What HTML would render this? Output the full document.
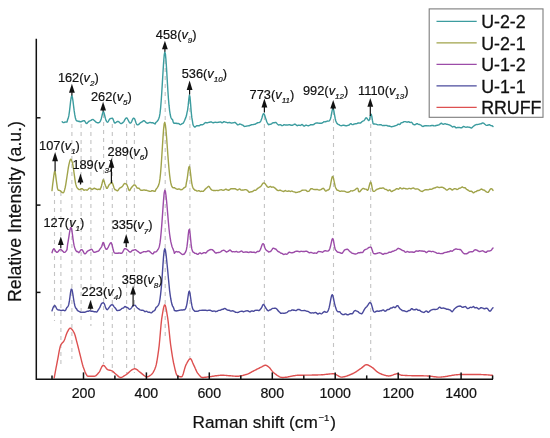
<!DOCTYPE html>
<html><head><meta charset="utf-8"><title>Raman spectra</title><style>html,body{margin:0;padding:0;background:#fff;width:550px;height:438px;overflow:hidden}svg{display:block}</style></head><body>
<svg width="550" height="438" viewBox="0 0 550 438">
<rect width="550" height="438" fill="#fff"/>
<g stroke="#c4c4c4" stroke-width="1.1" stroke-dasharray="4 4" fill="none">
<line x1="54.5" y1="192" x2="54.5" y2="321"/>
<line x1="60.9" y1="192" x2="60.9" y2="364"/>
<line x1="71.9" y1="124" x2="71.9" y2="359"/>
<line x1="81.1" y1="124" x2="81.1" y2="321"/>
<line x1="90.9" y1="124" x2="90.9" y2="326"/>
<line x1="103.6" y1="114" x2="103.6" y2="364"/>
<line x1="112.3" y1="124" x2="112.3" y2="373"/>
<line x1="126.6" y1="124" x2="126.6" y2="373"/>
<line x1="134.4" y1="124" x2="134.4" y2="373"/>
<line x1="165.2" y1="60" x2="165.2" y2="340"/>
<line x1="189.9" y1="100" x2="189.9" y2="358"/>
<line x1="264.4" y1="116" x2="264.4" y2="364"/>
<line x1="333.5" y1="111" x2="333.5" y2="370"/>
<line x1="370.7" y1="116" x2="370.7" y2="364"/>
</g>
<g fill="none" stroke-width="1.4" stroke-linejoin="round" stroke-linecap="round">
<path stroke="#dd5050" d="M54.2,377.9 L54.8,374.6 L55.4,371.4 L56.0,368.2 L56.6,365.1 L57.2,362.0 L57.8,358.9 L58.4,355.6 L59.0,352.2 L59.6,349.1 L60.2,346.6 L60.8,345.0 L61.4,344.0 L62.0,343.2 L62.6,342.6 L63.2,342.0 L63.8,341.1 L64.4,340.0 L65.0,338.4 L65.6,336.6 L66.2,334.8 L66.8,333.2 L67.4,331.9 L68.0,330.8 L68.6,329.7 L69.2,328.8 L69.8,328.3 L70.4,328.2 L71.0,328.5 L71.6,329.0 L72.2,329.7 L72.8,330.5 L73.4,331.5 L74.0,332.5 L74.6,333.9 L75.2,335.8 L75.8,338.0 L76.4,340.4 L77.0,342.6 L77.6,344.9 L78.2,347.2 L78.8,349.7 L79.4,352.1 L80.0,354.5 L80.6,356.9 L81.2,359.3 L81.8,361.8 L82.4,364.2 L83.0,366.3 L83.6,368.1 L84.2,369.6 L84.8,371.2 L85.4,372.6 L86.0,373.9 L86.6,375.0 L87.2,375.8 L87.8,376.2 L88.4,376.2 L89.0,376.2 L89.6,376.2 L90.2,376.2 L90.8,376.2 L91.4,376.2 L92.0,376.2 L92.6,376.2 L93.2,376.2 L93.8,376.2 L94.4,376.2 L95.0,376.1 L95.6,375.9 L96.2,375.4 L96.8,374.9 L97.4,374.2 L98.0,373.5 L98.6,372.8 L99.2,372.1 L99.8,371.1 L100.4,369.8 L101.0,368.5 L101.6,367.2 L102.2,366.2 L102.8,365.5 L103.4,365.3 L104.0,365.6 L104.6,366.1 L105.2,366.9 L105.8,367.7 L106.4,368.5 L107.0,369.2 L107.6,369.6 L108.2,369.8 L108.8,370.0 L109.4,370.2 L110.0,370.3 L110.6,370.4 L111.2,370.6 L111.8,370.8 L112.4,371.1 L113.0,371.5 L113.6,372.1 L114.2,372.6 L114.8,373.2 L115.4,373.7 L116.0,374.2 L116.6,374.7 L117.2,375.3 L117.8,375.9 L118.4,376.4 L119.0,376.9 L119.6,377.2 L120.2,377.4 L120.8,377.5 L121.4,377.4 L122.0,377.2 L122.6,376.9 L123.2,376.5 L123.8,376.1 L124.4,375.7 L125.0,375.4 L125.6,375.0 L126.2,374.6 L126.8,374.1 L127.4,373.6 L128.0,373.1 L128.6,372.6 L129.2,372.1 L129.8,371.5 L130.4,371.0 L131.0,370.5 L131.6,370.1 L132.2,369.7 L132.8,369.4 L133.4,369.1 L134.0,368.9 L134.6,368.8 L135.2,368.8 L135.8,369.0 L136.4,369.3 L137.0,369.7 L137.6,370.1 L138.2,370.7 L138.8,371.2 L139.4,371.7 L140.0,372.2 L140.6,372.6 L141.2,373.1 L141.8,373.6 L142.4,374.1 L143.0,374.6 L143.6,375.2 L144.2,375.6 L144.8,376.0 L145.4,376.4 L146.0,376.6 L146.6,376.8 L147.2,376.8 L147.8,376.7 L148.4,376.5 L149.0,376.2 L149.6,375.8 L150.2,375.4 L150.8,375.0 L151.4,374.5 L152.0,373.9 L152.6,373.2 L153.2,372.3 L153.8,371.2 L154.4,370.0 L155.0,368.6 L155.6,367.0 L156.2,364.9 L156.8,362.0 L157.4,358.4 L158.0,354.4 L158.6,350.2 L159.2,345.3 L159.8,339.0 L160.4,332.1 L161.0,325.3 L161.6,319.6 L162.2,315.6 L162.8,312.0 L163.4,308.7 L164.0,306.2 L164.6,304.9 L165.2,305.2 L165.8,307.2 L166.4,310.2 L167.0,313.8 L167.6,317.4 L168.2,321.9 L168.8,327.5 L169.4,333.5 L170.0,339.4 L170.6,344.5 L171.2,348.7 L171.8,352.7 L172.4,356.5 L173.0,359.9 L173.6,363.0 L174.2,365.7 L174.8,368.3 L175.4,370.8 L176.0,373.0 L176.6,374.7 L177.2,375.6 L177.8,375.9 L178.4,376.2 L179.0,376.4 L179.6,376.6 L180.2,376.7 L180.8,376.8 L181.4,376.8 L182.0,376.6 L182.6,375.5 L183.2,373.9 L183.8,371.8 L184.4,369.6 L185.0,367.5 L185.6,365.7 L186.2,364.4 L186.8,363.3 L187.4,362.1 L188.0,361.1 L188.6,360.1 L189.2,359.4 L189.8,358.9 L190.4,358.7 L191.0,359.1 L191.6,360.1 L192.2,361.5 L192.8,363.0 L193.4,364.4 L194.0,365.6 L194.6,366.9 L195.2,368.3 L195.8,369.6 L196.4,370.9 L197.0,372.1 L197.6,373.1 L198.2,373.8 L198.8,374.6 L199.4,375.3 L200.0,376.0 L200.6,376.6 L201.2,377.1 L201.8,377.4 L202.4,377.5 L203.0,377.5 L203.6,377.5 L204.2,377.4 L204.8,377.3 L205.4,377.3 L206.0,377.2 L206.6,377.1 L207.2,377.0 L207.8,376.9 L208.4,376.9 L209.0,376.8 L209.6,376.7 L210.2,376.6 L210.8,376.6 L211.4,376.5 L212.0,376.4 L212.6,376.3 L213.2,376.2 L213.8,376.1 L214.4,376.0 L215.0,375.9 L215.6,375.8 L216.2,375.8 L216.8,375.7 L217.4,375.6 L218.0,375.5 L218.6,375.5 L219.2,375.4 L219.8,375.4 L220.4,375.3 L221.0,375.3 L221.6,375.3 L222.2,375.3 L222.8,375.3 L223.4,375.3 L224.0,375.3 L224.6,375.4 L225.2,375.4 L225.8,375.4 L226.4,375.5 L227.0,375.5 L227.6,375.6 L228.2,375.6 L228.8,375.7 L229.4,375.7 L230.0,375.8 L230.6,375.8 L231.2,375.9 L231.8,375.9 L232.4,376.0 L233.0,376.0 L233.6,376.1 L234.2,376.1 L234.8,376.1 L235.4,376.2 L236.0,376.2 L236.6,376.2 L237.2,376.2 L237.8,376.2 L238.4,376.2 L239.0,376.1 L239.6,376.0 L240.2,376.0 L240.8,375.9 L241.4,375.7 L242.0,375.6 L242.6,375.5 L243.2,375.3 L243.8,375.2 L244.4,375.0 L245.0,374.9 L245.6,374.7 L246.2,374.5 L246.8,374.4 L247.4,374.1 L248.0,373.9 L248.6,373.6 L249.2,373.3 L249.8,373.0 L250.4,372.7 L251.0,372.3 L251.6,372.0 L252.2,371.6 L252.8,371.3 L253.4,371.0 L254.0,370.7 L254.6,370.3 L255.2,370.1 L255.8,369.8 L256.4,369.5 L257.0,369.2 L257.6,368.9 L258.2,368.6 L258.8,368.3 L259.4,368.0 L260.0,367.7 L260.6,367.4 L261.2,367.1 L261.8,366.8 L262.4,366.4 L263.0,366.1 L263.6,365.8 L264.2,365.5 L264.8,365.3 L265.4,365.2 L266.0,365.3 L266.6,365.5 L267.2,365.9 L267.8,366.3 L268.4,366.7 L269.0,367.2 L269.6,367.8 L270.2,368.5 L270.8,369.3 L271.4,370.1 L272.0,370.9 L272.6,371.6 L273.2,372.3 L273.8,372.8 L274.4,373.2 L275.0,373.7 L275.6,374.2 L276.2,374.6 L276.8,375.1 L277.4,375.5 L278.0,375.9 L278.6,376.2 L279.2,376.6 L279.8,376.9 L280.4,377.1 L281.0,377.3 L281.6,377.4 L282.2,377.5 L282.8,377.5 L283.4,377.5 L284.0,377.4 L284.6,377.4 L285.2,377.3 L285.8,377.3 L286.4,377.2 L287.0,377.1 L287.6,377.0 L288.2,376.8 L288.8,376.7 L289.4,376.6 L290.0,376.5 L290.6,376.4 L291.2,376.2 L291.8,376.1 L292.4,376.0 L293.0,375.9 L293.6,375.8 L294.2,375.7 L294.8,375.6 L295.4,375.5 L296.0,375.4 L296.6,375.4 L297.2,375.3 L297.8,375.3 L298.4,375.3 L299.0,375.3 L299.6,375.2 L300.2,375.2 L300.8,375.2 L301.4,375.2 L302.0,375.2 L302.6,375.2 L303.2,375.2 L303.8,375.2 L304.4,375.1 L305.0,375.1 L305.6,375.1 L306.2,375.1 L306.8,375.1 L307.4,375.1 L308.0,375.1 L308.6,375.1 L309.2,375.1 L309.8,375.1 L310.4,375.1 L311.0,375.1 L311.6,375.1 L312.2,375.0 L312.8,375.0 L313.4,375.0 L314.0,375.0 L314.6,375.0 L315.2,375.0 L315.8,375.0 L316.4,375.0 L317.0,375.0 L317.6,375.0 L318.2,374.9 L318.8,374.9 L319.4,374.9 L320.0,374.9 L320.6,374.9 L321.2,374.8 L321.8,374.8 L322.4,374.7 L323.0,374.7 L323.6,374.6 L324.2,374.6 L324.8,374.5 L325.4,374.4 L326.0,374.4 L326.6,374.3 L327.2,374.2 L327.8,374.2 L328.4,374.1 L329.0,374.0 L329.6,374.0 L330.2,373.9 L330.8,373.9 L331.4,373.9 L332.0,373.8 L332.6,373.8 L333.2,373.8 L333.8,373.8 L334.4,373.9 L335.0,374.1 L335.6,374.3 L336.2,374.6 L336.8,375.0 L337.4,375.4 L338.0,375.7 L338.6,376.1 L339.2,376.4 L339.8,376.7 L340.4,376.9 L341.0,377.1 L341.6,377.1 L342.2,377.1 L342.8,377.0 L343.4,376.9 L344.0,376.8 L344.6,376.7 L345.2,376.5 L345.8,376.4 L346.4,376.2 L347.0,376.0 L347.6,375.7 L348.2,375.5 L348.8,375.3 L349.4,375.0 L350.0,374.8 L350.6,374.5 L351.2,374.3 L351.8,374.0 L352.4,373.8 L353.0,373.5 L353.6,373.2 L354.2,372.9 L354.8,372.5 L355.4,372.2 L356.0,371.8 L356.6,371.4 L357.2,371.0 L357.8,370.6 L358.4,370.2 L359.0,369.7 L359.6,369.3 L360.2,368.9 L360.8,368.5 L361.4,368.1 L362.0,367.6 L362.6,367.1 L363.2,366.6 L363.8,366.1 L364.4,365.6 L365.0,365.2 L365.6,364.9 L366.2,364.7 L366.8,364.7 L367.4,364.8 L368.0,365.0 L368.6,365.3 L369.2,365.6 L369.8,366.0 L370.4,366.3 L371.0,366.7 L371.6,367.1 L372.2,367.5 L372.8,367.9 L373.4,368.4 L374.0,368.9 L374.6,369.5 L375.2,370.1 L375.8,370.6 L376.4,371.2 L377.0,371.7 L377.6,372.1 L378.2,372.5 L378.8,372.9 L379.4,373.2 L380.0,373.5 L380.6,373.7 L381.2,374.0 L381.8,374.3 L382.4,374.5 L383.0,374.7 L383.6,374.9 L384.2,375.1 L384.8,375.2 L385.4,375.4 L386.0,375.6 L386.6,375.7 L387.2,375.8 L387.8,375.9 L388.4,376.0 L389.0,376.0 L389.6,375.9 L390.2,375.8 L390.8,375.7 L391.4,375.5 L392.0,375.3 L392.6,375.1 L393.2,374.9 L393.8,374.6 L394.4,374.4 L395.0,374.2 L395.6,374.1 L396.2,373.9 L396.8,373.8 L397.4,373.8 L398.0,373.9 L398.6,374.0 L399.2,374.3 L399.8,374.6 L400.4,374.9 L401.0,375.1 L401.6,375.3 L402.2,375.3 L402.8,375.4 L403.4,375.4 L404.0,375.4 L404.6,375.4 L405.2,375.5 L405.8,375.5 L406.4,375.5 L407.0,375.5 L407.6,375.6 L408.2,375.6 L408.8,375.6 L409.4,375.6 L410.0,375.6 L410.6,375.6 L411.2,375.6 L411.8,375.7 L412.4,375.7 L413.0,375.7 L413.6,375.7 L414.2,375.7 L414.8,375.7 L415.4,375.7 L416.0,375.7 L416.6,375.7 L417.2,375.7 L417.8,375.7 L418.4,375.7 L419.0,375.8 L419.6,375.8 L420.2,375.8 L420.8,375.8 L421.4,375.8 L422.0,375.8 L422.6,375.8 L423.2,375.8 L423.8,375.9 L424.4,375.9 L425.0,375.9 L425.6,375.9 L426.2,375.9 L426.8,375.9 L427.4,376.0 L428.0,376.0 L428.6,376.0 L429.2,376.1 L429.8,376.1 L430.4,376.2 L431.0,376.3 L431.6,376.4 L432.2,376.4 L432.8,376.5 L433.4,376.6 L434.0,376.7 L434.6,376.8 L435.2,376.8 L435.8,376.9 L436.4,377.0 L437.0,377.0 L437.6,377.1 L438.2,377.1 L438.8,377.1 L439.4,377.1 L440.0,377.1 L440.6,377.1 L441.2,377.0 L441.8,377.0 L442.4,376.9 L443.0,376.9 L443.6,376.8 L444.2,376.7 L444.8,376.6 L445.4,376.5 L446.0,376.5 L446.6,376.4 L447.2,376.3 L447.8,376.2 L448.4,376.0 L449.0,375.9 L449.6,375.8 L450.2,375.7 L450.8,375.6 L451.4,375.5 L452.0,375.4 L452.6,375.3 L453.2,375.2 L453.8,375.1 L454.4,375.0 L455.0,374.9 L455.6,374.9 L456.2,374.8 L456.8,374.7 L457.4,374.7 L458.0,374.6 L458.6,374.6 L459.2,374.5 L459.8,374.5 L460.4,374.5 L461.0,374.5 L461.6,374.5 L462.2,374.5 L462.8,374.5 L463.4,374.5 L464.0,374.5 L464.6,374.5 L465.2,374.5 L465.8,374.5 L466.4,374.5 L467.0,374.5 L467.6,374.5 L468.2,374.5 L468.8,374.5 L469.4,374.5 L470.0,374.5 L470.6,374.5 L471.2,374.5 L471.8,374.5 L472.4,374.5 L473.0,374.5 L473.6,374.5 L474.2,374.5 L474.8,374.5 L475.4,374.5 L476.0,374.5 L476.6,374.5 L477.2,374.5 L477.8,374.5 L478.4,374.5 L479.0,374.5 L479.6,374.5 L480.2,374.5 L480.8,374.5 L481.4,374.6 L482.0,374.6 L482.6,374.6 L483.2,374.6 L483.8,374.7 L484.4,374.7 L485.0,374.7 L485.6,374.8 L486.2,374.8 L486.8,374.9 L487.4,374.9 L488.0,374.9 L488.6,375.0 L489.2,375.0 L489.8,375.1 L490.4,375.1 L491.0,375.2 L491.6,375.2 L492.2,375.3 L492.4,375.3"/>
<path stroke="#4a4a9c" d="M52.0,310.9 L52.6,309.0 L53.2,307.4 L53.8,306.3 L54.4,305.8 L55.0,305.8 L55.6,306.5 L56.2,307.7 L56.8,308.9 L57.4,309.7 L58.0,309.9 L58.6,310.0 L59.2,310.0 L59.8,310.1 L60.4,310.3 L61.0,310.6 L61.6,310.5 L62.2,310.4 L62.8,310.2 L63.4,310.2 L64.0,310.4 L64.6,310.7 L65.2,310.6 L65.8,309.9 L66.4,308.3 L67.0,307.4 L67.6,307.0 L68.2,306.0 L68.8,304.2 L69.4,300.9 L70.0,296.7 L70.6,292.2 L71.2,289.2 L71.8,289.1 L72.4,291.5 L73.0,295.2 L73.6,299.1 L74.2,302.7 L74.8,305.5 L75.4,307.4 L76.0,308.4 L76.6,308.9 L77.2,310.1 L77.8,310.6 L78.4,311.1 L79.0,311.4 L79.6,311.7 L80.2,312.0 L80.8,312.3 L81.4,312.4 L82.0,312.4 L82.6,312.2 L83.2,312.3 L83.8,312.2 L84.4,312.3 L85.0,312.1 L85.6,312.0 L86.2,311.7 L86.8,311.4 L87.4,311.3 L88.0,311.3 L88.6,311.2 L89.2,310.9 L89.8,310.8 L90.4,310.9 L91.0,311.2 L91.6,311.3 L92.2,311.3 L92.8,311.3 L93.4,311.5 L94.0,311.7 L94.6,311.7 L95.2,311.6 L95.8,311.9 L96.4,312.0 L97.0,311.8 L97.6,311.0 L98.2,310.0 L98.8,309.1 L99.4,308.2 L100.0,307.2 L100.6,305.6 L101.2,304.2 L101.8,303.3 L102.4,303.0 L103.0,302.8 L103.6,302.8 L104.2,303.6 L104.8,305.1 L105.4,306.9 L106.0,308.4 L106.6,309.3 L107.2,309.7 L107.8,309.2 L108.4,308.6 L109.0,307.6 L109.6,306.8 L110.2,306.0 L110.8,305.3 L111.4,304.9 L112.0,304.7 L112.6,304.9 L113.2,305.4 L113.8,306.4 L114.4,307.2 L115.0,307.8 L115.6,308.5 L116.2,309.4 L116.8,310.3 L117.4,310.6 L118.0,310.5 L118.6,310.4 L119.2,310.3 L119.8,310.2 L120.4,309.7 L121.0,309.3 L121.6,308.7 L122.2,308.4 L122.8,308.2 L123.4,308.0 L124.0,307.4 L124.6,306.7 L125.2,306.5 L125.8,306.9 L126.4,307.3 L127.0,307.4 L127.6,307.6 L128.2,308.2 L128.8,308.8 L129.4,309.2 L130.0,309.1 L130.6,308.8 L131.2,308.1 L131.8,307.3 L132.4,306.3 L133.0,305.5 L133.6,305.1 L134.2,305.1 L134.8,305.2 L135.4,305.6 L136.0,306.3 L136.6,307.1 L137.2,307.8 L137.8,308.3 L138.4,308.7 L139.0,309.1 L139.6,309.6 L140.2,309.9 L140.8,310.1 L141.4,310.2 L142.0,310.4 L142.6,310.3 L143.2,310.4 L143.8,310.7 L144.4,311.2 L145.0,311.7 L145.6,311.5 L146.2,311.4 L146.8,311.3 L147.4,311.8 L148.0,312.1 L148.6,312.2 L149.2,312.2 L149.8,312.3 L150.4,312.7 L151.0,312.9 L151.6,312.8 L152.2,312.2 L152.8,311.6 L153.4,311.1 L154.0,310.8 L154.6,310.4 L155.2,309.8 L155.8,308.0 L156.4,307.1 L157.0,306.8 L157.6,306.1 L158.2,305.4 L158.8,304.3 L159.4,302.4 L160.0,299.0 L160.6,294.4 L161.2,288.6 L161.8,281.6 L162.4,273.1 L163.0,264.1 L163.6,256.0 L164.2,250.6 L164.8,248.6 L165.4,250.2 L166.0,254.1 L166.6,259.5 L167.2,265.5 L167.8,271.6 L168.4,278.2 L169.0,284.5 L169.6,290.6 L170.2,295.1 L170.8,299.0 L171.4,302.0 L172.0,304.6 L172.6,306.2 L173.2,307.0 L173.8,308.4 L174.4,310.5 L175.0,310.7 L175.6,310.7 L176.2,311.0 L176.8,310.8 L177.4,310.8 L178.0,310.6 L178.6,310.5 L179.2,310.4 L179.8,310.2 L180.4,310.1 L181.0,310.0 L181.6,310.0 L182.2,310.0 L182.8,310.0 L183.4,309.8 L184.0,309.8 L184.6,309.8 L185.2,309.2 L185.8,308.2 L186.4,306.3 L187.0,303.6 L187.6,299.7 L188.2,295.5 L188.8,291.9 L189.4,291.1 L190.0,293.4 L190.6,297.5 L191.2,301.7 L191.8,305.2 L192.4,307.8 L193.0,309.4 L193.6,310.2 L194.2,310.6 L194.8,311.4 L195.4,311.3 L196.0,311.4 L196.6,311.3 L197.2,311.3 L197.8,311.1 L198.4,311.1 L199.0,310.7 L199.6,310.4 L200.2,310.4 L200.8,310.4 L201.4,310.4 L202.0,310.2 L202.6,310.2 L203.2,310.3 L203.8,310.2 L204.4,310.3 L205.0,310.1 L205.6,310.2 L206.2,310.4 L206.8,310.5 L207.4,310.6 L208.0,310.4 L208.6,310.3 L209.2,310.1 L209.8,310.2 L210.4,310.3 L211.0,310.6 L211.6,311.0 L212.2,311.2 L212.8,311.3 L213.4,311.1 L214.0,310.9 L214.6,311.1 L215.2,311.2 L215.8,311.7 L216.4,311.4 L217.0,311.4 L217.6,310.9 L218.2,310.7 L218.8,310.4 L219.4,310.4 L220.0,310.3 L220.6,310.1 L221.2,309.7 L221.8,309.5 L222.4,309.3 L223.0,309.3 L223.6,309.0 L224.2,308.7 L224.8,308.5 L225.4,308.7 L226.0,309.1 L226.6,309.7 L227.2,309.9 L227.8,310.2 L228.4,310.1 L229.0,310.2 L229.6,310.4 L230.2,310.9 L230.8,311.1 L231.4,311.0 L232.0,310.8 L232.6,310.8 L233.2,311.0 L233.8,311.2 L234.4,311.6 L235.0,311.9 L235.6,312.3 L236.2,312.4 L236.8,312.4 L237.4,312.5 L238.0,312.4 L238.6,312.3 L239.2,311.8 L239.8,311.6 L240.4,311.4 L241.0,311.4 L241.6,311.2 L242.2,311.3 L242.8,311.4 L243.4,311.8 L244.0,311.6 L244.6,311.4 L245.2,311.1 L245.8,311.0 L246.4,310.9 L247.0,310.8 L247.6,310.8 L248.2,311.0 L248.8,311.3 L249.4,311.7 L250.0,311.8 L250.6,311.5 L251.2,311.2 L251.8,310.9 L252.4,311.0 L253.0,311.2 L253.6,311.3 L254.2,311.1 L254.8,310.5 L255.4,310.4 L256.0,310.3 L256.6,310.4 L257.2,310.2 L257.8,310.4 L258.4,310.5 L259.0,310.6 L259.6,310.2 L260.2,309.5 L260.8,308.8 L261.4,308.0 L262.0,306.9 L262.6,305.3 L263.2,304.4 L263.8,304.4 L264.4,305.5 L265.0,306.7 L265.6,307.8 L266.2,308.5 L266.8,309.5 L267.4,310.3 L268.0,310.8 L268.6,310.7 L269.2,310.2 L269.8,310.0 L270.4,309.8 L271.0,309.5 L271.6,309.0 L272.2,308.4 L272.8,308.4 L273.4,308.4 L274.0,308.4 L274.6,308.1 L275.2,308.1 L275.8,308.4 L276.4,308.7 L277.0,309.3 L277.6,310.0 L278.2,310.9 L278.8,311.4 L279.4,312.0 L280.0,312.6 L280.6,313.2 L281.2,313.3 L281.8,313.4 L282.4,313.1 L283.0,313.1 L283.6,313.3 L284.2,313.4 L284.8,313.2 L285.4,313.0 L286.0,312.8 L286.6,312.6 L287.2,312.3 L287.8,311.7 L288.4,311.2 L289.0,310.9 L289.6,310.9 L290.2,310.8 L290.8,310.6 L291.4,310.3 L292.0,309.9 L292.6,310.0 L293.2,310.0 L293.8,310.3 L294.4,310.2 L295.0,310.4 L295.6,310.6 L296.2,310.6 L296.8,310.2 L297.4,309.7 L298.0,309.4 L298.6,309.5 L299.2,309.5 L299.8,309.8 L300.4,310.0 L301.0,310.5 L301.6,310.6 L302.2,310.6 L302.8,310.6 L303.4,310.6 L304.0,310.5 L304.6,310.5 L305.2,310.7 L305.8,310.9 L306.4,311.1 L307.0,311.2 L307.6,311.4 L308.2,311.5 L308.8,311.9 L309.4,312.2 L310.0,312.7 L310.6,312.8 L311.2,313.1 L311.8,312.9 L312.4,312.9 L313.0,312.8 L313.6,313.0 L314.2,312.9 L314.8,312.6 L315.4,312.4 L316.0,312.6 L316.6,313.1 L317.2,313.7 L317.8,314.0 L318.4,313.8 L319.0,313.4 L319.6,313.2 L320.2,313.4 L320.8,313.7 L321.4,313.9 L322.0,313.5 L322.6,312.9 L323.2,312.3 L323.8,312.0 L324.4,311.5 L325.0,311.8 L325.6,312.0 L326.2,312.3 L326.8,312.1 L327.4,311.8 L328.0,310.9 L328.6,309.5 L329.2,307.4 L329.8,304.6 L330.4,301.3 L331.0,298.1 L331.6,295.6 L332.2,294.7 L332.8,295.7 L333.4,298.0 L334.0,301.0 L334.6,303.7 L335.2,306.1 L335.8,308.1 L336.4,309.8 L337.0,310.9 L337.6,311.6 L338.2,311.8 L338.8,311.8 L339.4,311.7 L340.0,311.9 L340.6,312.8 L341.2,313.6 L341.8,314.0 L342.4,314.5 L343.0,314.5 L343.6,314.7 L344.2,314.5 L344.8,314.2 L345.4,313.9 L346.0,314.0 L346.6,314.4 L347.2,314.8 L347.8,314.8 L348.4,314.7 L349.0,314.3 L349.6,314.1 L350.2,313.7 L350.8,313.7 L351.4,313.8 L352.0,313.8 L352.6,313.6 L353.2,312.6 L353.8,311.7 L354.4,310.8 L355.0,310.6 L355.6,310.5 L356.2,310.9 L356.8,311.1 L357.4,311.3 L358.0,311.6 L358.6,312.2 L359.2,312.8 L359.8,313.1 L360.4,313.4 L361.0,313.6 L361.6,313.9 L362.2,313.3 L362.8,312.5 L363.4,311.3 L364.0,310.2 L364.6,309.1 L365.2,308.2 L365.8,307.6 L366.4,307.0 L367.0,306.4 L367.6,305.5 L368.2,304.6 L368.8,303.6 L369.4,302.8 L370.0,302.5 L370.6,302.9 L371.2,303.7 L371.8,305.6 L372.4,307.8 L373.0,310.0 L373.6,311.5 L374.2,312.0 L374.8,312.1 L375.4,311.9 L376.0,311.4 L376.6,311.3 L377.2,311.0 L377.8,311.2 L378.4,311.2 L379.0,311.3 L379.6,311.0 L380.2,310.9 L380.8,310.8 L381.4,310.8 L382.0,310.4 L382.6,310.1 L383.2,309.9 L383.8,310.2 L384.4,310.8 L385.0,311.2 L385.6,311.1 L386.2,310.6 L386.8,310.1 L387.4,309.7 L388.0,309.4 L388.6,309.5 L389.2,309.3 L389.8,308.9 L390.4,308.2 L391.0,308.0 L391.6,308.0 L392.2,307.9 L392.8,307.4 L393.4,307.0 L394.0,307.2 L394.6,307.5 L395.2,307.6 L395.8,307.1 L396.4,306.3 L397.0,305.6 L397.6,305.6 L398.2,306.1 L398.8,307.2 L399.4,308.0 L400.0,308.8 L400.6,309.2 L401.2,309.7 L401.8,310.1 L402.4,310.6 L403.0,310.8 L403.6,310.7 L404.2,310.8 L404.8,311.0 L405.4,311.4 L406.0,311.5 L406.6,311.7 L407.2,311.5 L407.8,311.2 L408.4,310.7 L409.0,310.5 L409.6,310.5 L410.2,310.2 L410.8,309.5 L411.4,308.8 L412.0,308.7 L412.6,309.1 L413.2,309.6 L413.8,309.8 L414.4,309.8 L415.0,309.8 L415.6,309.5 L416.2,309.2 L416.8,309.3 L417.4,309.7 L418.0,310.3 L418.6,310.2 L419.2,310.2 L419.8,310.3 L420.4,310.9 L421.0,311.4 L421.6,311.7 L422.2,312.0 L422.8,312.2 L423.4,312.4 L424.0,312.5 L424.6,312.1 L425.2,311.5 L425.8,311.1 L426.4,311.0 L427.0,311.4 L427.6,311.9 L428.2,312.3 L428.8,312.0 L429.4,311.5 L430.0,310.8 L430.6,310.5 L431.2,310.0 L431.8,309.9 L432.4,309.7 L433.0,309.5 L433.6,309.4 L434.2,309.3 L434.8,309.5 L435.4,309.5 L436.0,309.4 L436.6,309.3 L437.2,309.1 L437.8,308.8 L438.4,308.1 L439.0,307.5 L439.6,307.1 L440.2,307.4 L440.8,307.9 L441.4,308.4 L442.0,308.4 L442.6,308.2 L443.2,308.0 L443.8,308.2 L444.4,308.3 L445.0,308.5 L445.6,308.7 L446.2,309.0 L446.8,309.4 L447.4,309.2 L448.0,309.3 L448.6,309.4 L449.2,309.8 L449.8,309.9 L450.4,310.2 L451.0,310.8 L451.6,311.5 L452.2,311.7 L452.8,311.1 L453.4,310.3 L454.0,309.4 L454.6,308.7 L455.2,308.2 L455.8,307.7 L456.4,307.3 L457.0,306.9 L457.6,306.5 L458.2,306.3 L458.8,306.1 L459.4,306.2 L460.0,306.0 L460.6,306.3 L461.2,306.4 L461.8,307.1 L462.4,307.2 L463.0,307.3 L463.6,307.0 L464.2,306.8 L464.8,306.6 L465.4,306.5 L466.0,307.0 L466.6,307.7 L467.2,308.3 L467.8,308.5 L468.4,308.3 L469.0,308.1 L469.6,307.6 L470.2,307.4 L470.8,307.3 L471.4,307.5 L472.0,307.4 L472.6,307.0 L473.2,306.5 L473.8,306.8 L474.4,307.4 L475.0,307.9 L475.6,307.7 L476.2,307.6 L476.8,307.5 L477.4,308.2 L478.0,308.5 L478.6,309.0 L479.2,308.8 L479.8,308.6 L480.4,308.0 L481.0,307.7 L481.6,307.6 L482.2,307.9 L482.8,308.1 L483.4,308.5 L484.0,308.7 L484.6,308.8 L485.2,308.5 L485.8,308.3 L486.4,308.2 L487.0,308.3 L487.6,308.7 L488.2,309.5 L488.8,310.5 L489.4,311.0 L490.0,311.2 L490.6,310.8 L491.2,310.0 L491.8,309.1 L492.4,308.4 L493.0,307.7"/>
<path stroke="#9c4ca8" d="M52.0,252.7 L52.6,250.7 L53.2,249.4 L53.8,248.8 L54.4,249.4 L55.0,250.2 L55.6,251.2 L56.2,251.9 L56.8,252.4 L57.4,252.3 L58.0,251.8 L58.6,251.0 L59.2,250.3 L59.8,249.6 L60.4,249.5 L61.0,249.6 L61.6,250.1 L62.2,250.5 L62.8,251.3 L63.4,251.8 L64.0,252.4 L64.6,252.4 L65.2,252.1 L65.8,251.4 L66.4,250.7 L67.0,249.6 L67.6,244.3 L68.2,241.1 L68.8,237.4 L69.4,233.3 L70.0,230.0 L70.6,227.8 L71.2,227.7 L71.8,230.2 L72.4,234.2 L73.0,238.8 L73.6,242.8 L74.2,245.9 L74.8,247.9 L75.4,249.6 L76.0,250.7 L76.6,251.5 L77.2,251.5 L77.8,251.7 L78.4,252.5 L79.0,252.5 L79.6,251.7 L80.2,250.8 L80.8,249.9 L81.4,249.7 L82.0,249.8 L82.6,250.5 L83.2,251.4 L83.8,252.6 L84.4,253.5 L85.0,253.8 L85.6,253.6 L86.2,252.8 L86.8,252.0 L87.4,251.3 L88.0,250.9 L88.6,250.5 L89.2,250.3 L89.8,250.0 L90.4,249.8 L91.0,249.3 L91.6,249.3 L92.2,249.7 L92.8,250.9 L93.4,251.7 L94.0,252.3 L94.6,252.2 L95.2,252.2 L95.8,252.0 L96.4,251.7 L97.0,251.5 L97.6,251.3 L98.2,251.3 L98.8,250.8 L99.4,250.0 L100.0,249.0 L100.6,248.2 L101.2,247.4 L101.8,246.3 L102.4,244.2 L103.0,242.5 L103.6,242.6 L104.2,244.5 L104.8,246.8 L105.4,248.1 L106.0,249.3 L106.6,249.4 L107.2,248.9 L107.8,247.9 L108.4,246.8 L109.0,245.5 L109.6,244.3 L110.2,243.3 L110.8,242.7 L111.4,243.0 L112.0,244.7 L112.6,247.2 L113.2,249.8 L113.8,251.9 L114.4,252.8 L115.0,253.1 L115.6,253.2 L116.2,253.1 L116.8,253.3 L117.4,253.1 L118.0,253.3 L118.6,253.0 L119.2,253.1 L119.8,253.0 L120.4,253.3 L121.0,253.3 L121.6,253.2 L122.2,252.8 L122.8,251.9 L123.4,250.7 L124.0,249.5 L124.6,248.8 L125.2,248.7 L125.8,248.8 L126.4,249.2 L127.0,249.5 L127.6,250.0 L128.2,250.6 L128.8,251.2 L129.4,251.7 L130.0,252.1 L130.6,252.1 L131.2,251.7 L131.8,250.9 L132.4,250.4 L133.0,250.1 L133.6,250.2 L134.2,249.9 L134.8,249.8 L135.4,249.6 L136.0,250.0 L136.6,250.5 L137.2,251.0 L137.8,251.5 L138.4,251.7 L139.0,252.3 L139.6,252.7 L140.2,253.3 L140.8,253.0 L141.4,252.9 L142.0,252.3 L142.6,252.1 L143.2,251.8 L143.8,251.7 L144.4,251.6 L145.0,251.6 L145.6,251.7 L146.2,251.7 L146.8,251.5 L147.4,251.2 L148.0,250.9 L148.6,250.9 L149.2,251.2 L149.8,251.5 L150.4,252.2 L151.0,252.7 L151.6,253.3 L152.2,253.7 L152.8,253.8 L153.4,253.6 L154.0,252.2 L154.6,252.0 L155.2,252.0 L155.8,251.9 L156.4,251.6 L157.0,251.0 L157.6,250.0 L158.2,249.1 L158.8,248.0 L159.4,246.2 L160.0,242.9 L160.6,238.1 L161.2,231.8 L161.8,224.6 L162.4,216.3 L163.0,207.6 L163.6,199.2 L164.2,192.9 L164.8,190.3 L165.4,191.4 L166.0,195.5 L166.6,201.2 L167.2,208.0 L167.8,215.1 L168.4,222.3 L169.0,228.7 L169.6,234.0 L170.2,238.1 L170.8,241.7 L171.4,244.2 L172.0,246.5 L172.6,248.0 L173.2,249.4 L173.8,250.9 L174.4,253.3 L175.0,252.6 L175.6,251.9 L176.2,251.5 L176.8,251.6 L177.4,252.0 L178.0,251.9 L178.6,251.8 L179.2,252.0 L179.8,252.5 L180.4,253.0 L181.0,253.5 L181.6,254.0 L182.2,254.4 L182.8,254.6 L183.4,254.2 L184.0,254.2 L184.6,253.5 L185.2,252.7 L185.8,251.4 L186.4,249.7 L187.0,246.4 L187.6,241.4 L188.2,235.3 L188.8,230.4 L189.4,229.3 L190.0,232.8 L190.6,239.0 L191.2,244.8 L191.8,248.9 L192.4,250.9 L193.0,252.0 L193.6,252.3 L194.2,252.7 L194.8,253.3 L195.4,253.4 L196.0,253.4 L196.6,253.9 L197.2,254.2 L197.8,254.3 L198.4,254.0 L199.0,253.4 L199.6,253.0 L200.2,252.9 L200.8,253.3 L201.4,253.7 L202.0,253.6 L202.6,253.4 L203.2,252.9 L203.8,252.6 L204.4,252.6 L205.0,252.8 L205.6,253.1 L206.2,252.7 L206.8,252.0 L207.4,251.2 L208.0,250.8 L208.6,250.4 L209.2,250.2 L209.8,249.8 L210.4,249.7 L211.0,249.5 L211.6,249.6 L212.2,249.7 L212.8,250.1 L213.4,250.6 L214.0,251.3 L214.6,252.0 L215.2,252.7 L215.8,253.0 L216.4,253.0 L217.0,252.7 L217.6,252.6 L218.2,252.5 L218.8,252.5 L219.4,252.3 L220.0,252.1 L220.6,251.8 L221.2,251.4 L221.8,250.9 L222.4,250.6 L223.0,250.4 L223.6,250.3 L224.2,250.4 L224.8,250.6 L225.4,251.3 L226.0,251.7 L226.6,252.0 L227.2,251.7 L227.8,251.5 L228.4,251.1 L229.0,250.7 L229.6,250.1 L230.2,250.0 L230.8,250.5 L231.4,251.3 L232.0,251.8 L232.6,251.7 L233.2,251.6 L233.8,251.6 L234.4,251.9 L235.0,251.9 L235.6,251.6 L236.2,251.5 L236.8,251.5 L237.4,252.0 L238.0,252.1 L238.6,252.1 L239.2,252.0 L239.8,251.9 L240.4,251.5 L241.0,251.1 L241.6,251.0 L242.2,251.4 L242.8,252.0 L243.4,252.4 L244.0,252.2 L244.6,252.1 L245.2,252.0 L245.8,251.9 L246.4,252.0 L247.0,252.0 L247.6,252.3 L248.2,252.4 L248.8,252.5 L249.4,252.2 L250.0,252.0 L250.6,251.8 L251.2,252.0 L251.8,252.3 L252.4,252.4 L253.0,252.2 L253.6,252.1 L254.2,252.2 L254.8,252.5 L255.4,252.7 L256.0,252.6 L256.6,252.0 L257.2,251.6 L257.8,251.3 L258.4,251.5 L259.0,251.3 L259.6,250.9 L260.2,249.9 L260.8,248.6 L261.4,246.8 L262.0,245.0 L262.6,243.8 L263.2,243.6 L263.8,244.4 L264.4,246.2 L265.0,247.9 L265.6,249.4 L266.2,250.1 L266.8,250.7 L267.4,250.9 L268.0,251.3 L268.6,252.0 L269.2,251.9 L269.8,251.8 L270.4,251.4 L271.0,251.1 L271.6,250.2 L272.2,249.4 L272.8,248.4 L273.4,248.1 L274.0,248.4 L274.6,248.7 L275.2,249.0 L275.8,249.0 L276.4,249.7 L277.0,250.4 L277.6,251.2 L278.2,251.5 L278.8,251.8 L279.4,252.0 L280.0,252.5 L280.6,252.9 L281.2,253.3 L281.8,253.4 L282.4,253.7 L283.0,254.1 L283.6,254.5 L284.2,254.3 L284.8,254.1 L285.4,253.9 L286.0,254.1 L286.6,254.2 L287.2,254.1 L287.8,253.5 L288.4,252.8 L289.0,252.3 L289.6,252.2 L290.2,252.5 L290.8,252.7 L291.4,252.9 L292.0,252.8 L292.6,252.7 L293.2,252.5 L293.8,252.3 L294.4,252.0 L295.0,251.7 L295.6,251.4 L296.2,251.3 L296.8,251.3 L297.4,251.3 L298.0,251.3 L298.6,251.5 L299.2,251.7 L299.8,251.7 L300.4,251.5 L301.0,251.3 L301.6,251.4 L302.2,251.4 L302.8,251.6 L303.4,251.5 L304.0,251.5 L304.6,251.5 L305.2,251.4 L305.8,251.2 L306.4,251.1 L307.0,251.4 L307.6,251.7 L308.2,252.2 L308.8,252.5 L309.4,252.9 L310.0,252.7 L310.6,252.5 L311.2,252.4 L311.8,252.6 L312.4,252.9 L313.0,253.1 L313.6,253.2 L314.2,253.2 L314.8,252.9 L315.4,253.1 L316.0,253.1 L316.6,253.3 L317.2,252.7 L317.8,252.0 L318.4,251.5 L319.0,251.5 L319.6,251.6 L320.2,251.6 L320.8,251.7 L321.4,251.9 L322.0,252.1 L322.6,252.2 L323.2,251.7 L323.8,251.3 L324.4,250.9 L325.0,250.8 L325.6,250.8 L326.2,250.9 L326.8,251.1 L327.4,251.1 L328.0,251.0 L328.6,250.7 L329.2,250.1 L329.8,248.8 L330.4,246.8 L331.0,244.1 L331.6,241.3 L332.2,239.0 L332.8,238.6 L333.4,240.2 L334.0,243.6 L334.6,246.7 L335.2,249.3 L335.8,250.2 L336.4,250.8 L337.0,251.7 L337.6,252.1 L338.2,252.3 L338.8,252.3 L339.4,252.5 L340.0,252.7 L340.6,253.0 L341.2,253.2 L341.8,253.3 L342.4,253.0 L343.0,252.2 L343.6,251.3 L344.2,250.4 L344.8,249.9 L345.4,249.7 L346.0,249.5 L346.6,249.3 L347.2,249.2 L347.8,249.5 L348.4,249.9 L349.0,250.7 L349.6,251.2 L350.2,251.8 L350.8,252.1 L351.4,252.7 L352.0,253.2 L352.6,253.4 L353.2,253.5 L353.8,253.6 L354.4,253.9 L355.0,254.0 L355.6,254.0 L356.2,253.8 L356.8,253.6 L357.4,253.3 L358.0,252.9 L358.6,252.8 L359.2,252.7 L359.8,252.8 L360.4,252.5 L361.0,252.5 L361.6,252.5 L362.2,252.6 L362.8,252.3 L363.4,251.4 L364.0,250.5 L364.6,249.9 L365.2,249.6 L365.8,249.3 L366.4,249.1 L367.0,248.9 L367.6,248.5 L368.2,247.9 L368.8,247.5 L369.4,247.3 L370.0,247.1 L370.6,247.1 L371.2,247.3 L371.8,248.9 L372.4,250.7 L373.0,252.5 L373.6,253.5 L374.2,253.7 L374.8,253.7 L375.4,253.8 L376.0,253.7 L376.6,253.5 L377.2,253.3 L377.8,253.2 L378.4,252.9 L379.0,252.9 L379.6,252.7 L380.2,252.9 L380.8,253.1 L381.4,253.4 L382.0,253.8 L382.6,254.2 L383.2,254.3 L383.8,254.0 L384.4,253.5 L385.0,253.5 L385.6,253.5 L386.2,253.6 L386.8,253.4 L387.4,253.2 L388.0,252.9 L388.6,252.5 L389.2,252.2 L389.8,252.2 L390.4,252.3 L391.0,252.3 L391.6,251.8 L392.2,251.4 L392.8,251.2 L393.4,251.2 L394.0,250.9 L394.6,250.5 L395.2,250.3 L395.8,250.1 L396.4,249.8 L397.0,249.2 L397.6,248.7 L398.2,248.3 L398.8,248.5 L399.4,248.6 L400.0,249.0 L400.6,249.3 L401.2,249.7 L401.8,250.1 L402.4,250.5 L403.0,250.6 L403.6,250.7 L404.2,251.1 L404.8,251.8 L405.4,252.2 L406.0,252.1 L406.6,251.8 L407.2,251.4 L407.8,251.6 L408.4,251.9 L409.0,252.2 L409.6,252.2 L410.2,252.0 L410.8,252.1 L411.4,251.9 L412.0,252.1 L412.6,252.0 L413.2,252.3 L413.8,252.3 L414.4,252.2 L415.0,251.7 L415.6,251.3 L416.2,250.9 L416.8,250.9 L417.4,251.1 L418.0,251.3 L418.6,251.0 L419.2,250.8 L419.8,250.8 L420.4,250.9 L421.0,251.0 L421.6,250.9 L422.2,251.0 L422.8,251.2 L423.4,251.3 L424.0,251.2 L424.6,251.2 L425.2,251.7 L425.8,252.1 L426.4,252.6 L427.0,252.3 L427.6,251.8 L428.2,251.3 L428.8,251.2 L429.4,251.2 L430.0,251.3 L430.6,251.4 L431.2,251.7 L431.8,251.6 L432.4,251.4 L433.0,251.4 L433.6,251.6 L434.2,251.9 L434.8,252.1 L435.4,252.3 L436.0,252.6 L436.6,253.0 L437.2,253.4 L437.8,253.4 L438.4,253.3 L439.0,253.3 L439.6,253.4 L440.2,253.6 L440.8,253.6 L441.4,253.6 L442.0,253.5 L442.6,253.5 L443.2,253.3 L443.8,252.9 L444.4,252.6 L445.0,252.5 L445.6,252.4 L446.2,252.4 L446.8,252.3 L447.4,251.9 L448.0,251.7 L448.6,251.6 L449.2,251.7 L449.8,251.3 L450.4,250.9 L451.0,250.8 L451.6,251.1 L452.2,251.3 L452.8,250.8 L453.4,250.3 L454.0,249.7 L454.6,249.5 L455.2,249.2 L455.8,248.9 L456.4,249.0 L457.0,249.2 L457.6,249.4 L458.2,249.4 L458.8,249.4 L459.4,249.5 L460.0,249.5 L460.6,249.7 L461.2,250.3 L461.8,251.2 L462.4,252.1 L463.0,252.7 L463.6,253.2 L464.2,253.7 L464.8,253.8 L465.4,253.9 L466.0,253.8 L466.6,253.8 L467.2,253.5 L467.8,253.1 L468.4,252.6 L469.0,252.1 L469.6,252.0 L470.2,251.9 L470.8,251.8 L471.4,251.7 L472.0,251.8 L472.6,251.7 L473.2,251.4 L473.8,250.7 L474.4,250.1 L475.0,249.8 L475.6,249.8 L476.2,250.0 L476.8,250.2 L477.4,250.5 L478.0,250.8 L478.6,251.2 L479.2,251.5 L479.8,251.5 L480.4,251.3 L481.0,251.1 L481.6,251.0 L482.2,250.8 L482.8,250.9 L483.4,251.1 L484.0,251.5 L484.6,251.8 L485.2,252.2 L485.8,252.3 L486.4,252.2 L487.0,251.5 L487.6,251.2 L488.2,251.0 L488.8,251.1 L489.4,251.0 L490.0,250.9 L490.6,250.7 L491.2,250.2 L491.8,249.5 L492.4,248.7 L493.0,248.1"/>
<path stroke="#a0a34a" d="M52.0,190.6 L52.6,185.1 L53.2,180.6 L53.8,175.9 L54.4,172.0 L55.0,171.2 L55.6,174.7 L56.2,179.6 L56.8,183.9 L57.4,188.1 L58.0,189.9 L58.6,190.3 L59.2,190.3 L59.8,190.5 L60.4,190.9 L61.0,191.4 L61.6,192.1 L62.2,192.5 L62.8,192.7 L63.4,192.7 L64.0,191.8 L64.6,189.9 L65.2,187.5 L65.8,184.3 L66.4,180.3 L67.0,176.5 L67.6,172.6 L68.2,168.5 L68.8,165.2 L69.4,162.6 L70.0,160.4 L70.6,159.2 L71.2,159.4 L71.8,160.9 L72.4,162.7 L73.0,165.7 L73.6,169.7 L74.2,174.0 L74.8,178.4 L75.4,182.5 L76.0,184.9 L76.6,186.7 L77.2,187.9 L77.8,188.6 L78.4,189.2 L79.0,189.5 L79.6,189.6 L80.2,189.5 L80.8,189.1 L81.4,188.7 L82.0,188.6 L82.6,188.9 L83.2,189.6 L83.8,190.1 L84.4,190.2 L85.0,189.9 L85.6,189.9 L86.2,189.9 L86.8,190.2 L87.4,190.1 L88.0,189.4 L88.6,188.8 L89.2,188.2 L89.8,188.1 L90.4,188.1 L91.0,188.7 L91.6,189.2 L92.2,189.5 L92.8,189.1 L93.4,188.6 L94.0,188.3 L94.6,188.3 L95.2,188.7 L95.8,188.7 L96.4,189.2 L97.0,189.3 L97.6,189.6 L98.2,189.3 L98.8,189.2 L99.4,189.1 L100.0,189.6 L100.6,188.3 L101.2,187.1 L101.8,184.8 L102.4,182.2 L103.0,180.0 L103.6,179.8 L104.2,181.5 L104.8,183.8 L105.4,185.5 L106.0,186.8 L106.6,188.4 L107.2,188.3 L107.8,187.4 L108.4,186.1 L109.0,184.9 L109.6,184.3 L110.2,183.8 L110.8,183.1 L111.4,182.5 L112.0,182.5 L112.6,183.6 L113.2,185.3 L113.8,187.2 L114.4,188.6 L115.0,189.7 L115.6,189.8 L116.2,190.2 L116.8,190.5 L117.4,190.9 L118.0,190.4 L118.6,189.7 L119.2,188.5 L119.8,188.1 L120.4,187.7 L121.0,187.5 L121.6,187.0 L122.2,186.7 L122.8,185.9 L123.4,184.9 L124.0,184.0 L124.6,183.5 L125.2,183.7 L125.8,183.9 L126.4,184.2 L127.0,184.9 L127.6,186.5 L128.2,188.2 L128.8,190.0 L129.4,190.6 L130.0,190.1 L130.6,188.9 L131.2,188.0 L131.8,187.1 L132.4,186.6 L133.0,185.8 L133.6,185.2 L134.2,184.9 L134.8,185.0 L135.4,185.3 L136.0,186.1 L136.6,187.1 L137.2,188.0 L137.8,188.2 L138.4,188.2 L139.0,188.3 L139.6,188.9 L140.2,189.7 L140.8,190.2 L141.4,190.3 L142.0,190.4 L142.6,190.2 L143.2,190.1 L143.8,189.9 L144.4,190.0 L145.0,190.2 L145.6,190.2 L146.2,190.2 L146.8,190.4 L147.4,190.7 L148.0,190.9 L148.6,191.0 L149.2,191.1 L149.8,191.4 L150.4,191.4 L151.0,191.3 L151.6,190.7 L152.2,190.7 L152.8,190.7 L153.4,191.0 L154.0,191.2 L154.6,191.3 L155.2,191.2 L155.8,189.7 L156.4,188.8 L157.0,188.1 L157.6,187.2 L158.2,186.2 L158.8,184.6 L159.4,182.4 L160.0,178.4 L160.6,172.8 L161.2,165.2 L161.8,156.3 L162.4,146.7 L163.0,137.4 L163.6,129.1 L164.2,123.8 L164.8,122.3 L165.4,125.0 L166.0,130.2 L166.6,137.6 L167.2,145.7 L167.8,154.1 L168.4,161.9 L169.0,168.9 L169.6,174.9 L170.2,179.5 L170.8,182.9 L171.4,185.2 L172.0,186.7 L172.6,187.5 L173.2,187.7 L173.8,187.7 L174.4,187.7 L175.0,188.1 L175.6,188.3 L176.2,188.9 L176.8,189.1 L177.4,189.3 L178.0,189.2 L178.6,189.0 L179.2,189.0 L179.8,189.1 L180.4,189.7 L181.0,189.9 L181.6,189.7 L182.2,189.5 L182.8,188.9 L183.4,188.5 L184.0,187.8 L184.6,187.5 L185.2,187.1 L185.8,186.6 L186.4,182.7 L187.0,180.0 L187.6,175.9 L188.2,171.2 L188.8,167.3 L189.4,166.3 L190.0,168.9 L190.6,173.8 L191.2,179.1 L191.8,183.3 L192.4,186.2 L193.0,187.8 L193.6,188.9 L194.2,189.4 L194.8,190.2 L195.4,190.1 L196.0,190.4 L196.6,190.8 L197.2,191.1 L197.8,190.9 L198.4,190.6 L199.0,190.6 L199.6,191.0 L200.2,191.5 L200.8,191.4 L201.4,191.2 L202.0,191.3 L202.6,191.4 L203.2,191.4 L203.8,190.8 L204.4,190.3 L205.0,189.4 L205.6,188.9 L206.2,188.2 L206.8,187.9 L207.4,187.2 L208.0,186.7 L208.6,186.3 L209.2,186.7 L209.8,187.5 L210.4,188.5 L211.0,189.3 L211.6,189.9 L212.2,190.2 L212.8,190.4 L213.4,190.5 L214.0,190.4 L214.6,190.5 L215.2,190.6 L215.8,190.5 L216.4,190.4 L217.0,190.4 L217.6,190.5 L218.2,190.6 L218.8,190.3 L219.4,190.1 L220.0,189.9 L220.6,189.9 L221.2,189.7 L221.8,189.9 L222.4,190.1 L223.0,190.2 L223.6,190.2 L224.2,190.0 L224.8,189.7 L225.4,189.3 L226.0,189.2 L226.6,189.5 L227.2,189.9 L227.8,190.0 L228.4,190.3 L229.0,190.0 L229.6,189.8 L230.2,189.2 L230.8,188.8 L231.4,188.8 L232.0,188.8 L232.6,188.8 L233.2,188.8 L233.8,188.8 L234.4,188.7 L235.0,188.7 L235.6,188.9 L236.2,189.4 L236.8,189.7 L237.4,190.0 L238.0,189.9 L238.6,189.5 L239.2,189.0 L239.8,189.0 L240.4,189.4 L241.0,190.0 L241.6,190.1 L242.2,190.2 L242.8,190.0 L243.4,190.1 L244.0,189.9 L244.6,189.8 L245.2,189.6 L245.8,189.6 L246.4,189.8 L247.0,190.1 L247.6,190.5 L248.2,191.3 L248.8,191.9 L249.4,192.4 L250.0,192.2 L250.6,191.9 L251.2,191.7 L251.8,191.7 L252.4,191.6 L253.0,191.2 L253.6,190.7 L254.2,190.2 L254.8,190.4 L255.4,190.3 L256.0,190.1 L256.6,189.5 L257.2,188.8 L257.8,188.4 L258.4,187.9 L259.0,187.6 L259.6,187.2 L260.2,186.9 L260.8,186.4 L261.4,185.6 L262.0,184.7 L262.6,183.7 L263.2,183.1 L263.8,182.9 L264.4,183.2 L265.0,183.6 L265.6,184.3 L266.2,185.2 L266.8,186.0 L267.4,186.8 L268.0,187.1 L268.6,187.4 L269.2,187.0 L269.8,186.6 L270.4,186.4 L271.0,186.8 L271.6,187.2 L272.2,187.1 L272.8,187.0 L273.4,187.0 L274.0,187.4 L274.6,187.8 L275.2,188.2 L275.8,188.9 L276.4,189.4 L277.0,190.0 L277.6,190.3 L278.2,190.6 L278.8,190.5 L279.4,190.3 L280.0,190.2 L280.6,190.3 L281.2,190.7 L281.8,190.9 L282.4,191.2 L283.0,191.4 L283.6,191.6 L284.2,191.2 L284.8,190.8 L285.4,190.5 L286.0,190.9 L286.6,191.2 L287.2,191.4 L287.8,191.3 L288.4,191.0 L289.0,191.0 L289.6,191.1 L290.2,191.5 L290.8,191.3 L291.4,191.1 L292.0,191.0 L292.6,191.4 L293.2,191.7 L293.8,191.9 L294.4,191.9 L295.0,192.2 L295.6,192.5 L296.2,192.5 L296.8,192.4 L297.4,192.3 L298.0,192.1 L298.6,191.9 L299.2,191.6 L299.8,191.7 L300.4,191.4 L301.0,191.1 L301.6,190.4 L302.2,190.3 L302.8,190.2 L303.4,190.1 L304.0,190.1 L304.6,190.1 L305.2,190.1 L305.8,190.2 L306.4,190.6 L307.0,191.1 L307.6,191.5 L308.2,191.4 L308.8,191.3 L309.4,190.7 L310.0,189.8 L310.6,189.0 L311.2,188.7 L311.8,188.7 L312.4,188.8 L313.0,189.1 L313.6,189.3 L314.2,189.6 L314.8,189.5 L315.4,189.7 L316.0,189.5 L316.6,189.5 L317.2,189.4 L317.8,189.7 L318.4,189.9 L319.0,190.0 L319.6,190.1 L320.2,189.9 L320.8,189.7 L321.4,189.3 L322.0,188.9 L322.6,188.5 L323.2,188.3 L323.8,188.7 L324.4,189.4 L325.0,190.4 L325.6,191.0 L326.2,191.0 L326.8,190.5 L327.4,190.2 L328.0,190.0 L328.6,189.8 L329.2,189.2 L329.8,187.7 L330.4,185.3 L331.0,182.2 L331.6,179.1 L332.2,176.8 L332.8,176.4 L333.4,177.9 L334.0,180.8 L334.6,183.7 L335.2,186.4 L335.8,188.1 L336.4,189.0 L337.0,190.1 L337.6,190.2 L338.2,190.4 L338.8,190.7 L339.4,191.1 L340.0,191.4 L340.6,191.3 L341.2,191.1 L341.8,191.0 L342.4,191.1 L343.0,191.2 L343.6,191.1 L344.2,191.1 L344.8,191.3 L345.4,191.6 L346.0,191.9 L346.6,192.1 L347.2,192.4 L347.8,192.3 L348.4,192.2 L349.0,192.0 L349.6,191.6 L350.2,191.3 L350.8,190.8 L351.4,190.9 L352.0,190.9 L352.6,191.0 L353.2,190.6 L353.8,190.4 L354.4,190.1 L355.0,189.8 L355.6,189.3 L356.2,188.7 L356.8,188.3 L357.4,188.1 L358.0,188.8 L358.6,191.5 L359.2,191.9 L359.8,191.7 L360.4,191.0 L361.0,190.3 L361.6,189.5 L362.2,189.0 L362.8,188.5 L363.4,188.5 L364.0,188.7 L364.6,189.0 L365.2,189.1 L365.8,189.1 L366.4,189.4 L367.0,189.9 L367.6,190.3 L368.2,189.6 L368.8,187.6 L369.4,185.3 L370.0,183.2 L370.6,182.1 L371.2,182.9 L371.8,185.9 L372.4,189.3 L373.0,191.1 L373.6,191.4 L374.2,191.4 L374.8,191.0 L375.4,190.5 L376.0,189.9 L376.6,189.6 L377.2,189.1 L377.8,189.0 L378.4,188.8 L379.0,188.7 L379.6,188.3 L380.2,188.3 L380.8,188.2 L381.4,188.3 L382.0,188.1 L382.6,187.9 L383.2,188.0 L383.8,188.2 L384.4,188.8 L385.0,189.2 L385.6,189.4 L386.2,189.5 L386.8,189.7 L387.4,190.3 L388.0,190.8 L388.6,190.6 L389.2,190.0 L389.8,189.8 L390.4,190.5 L391.0,191.2 L391.6,191.5 L392.2,191.3 L392.8,190.9 L393.4,190.5 L394.0,190.3 L394.6,190.1 L395.2,189.7 L395.8,189.2 L396.4,188.6 L397.0,188.6 L397.6,188.9 L398.2,189.2 L398.8,189.1 L399.4,188.3 L400.0,187.8 L400.6,187.9 L401.2,188.5 L401.8,188.9 L402.4,188.8 L403.0,188.5 L403.6,188.2 L404.2,188.4 L404.8,188.4 L405.4,188.7 L406.0,188.7 L406.6,188.9 L407.2,189.0 L407.8,188.9 L408.4,188.7 L409.0,188.4 L409.6,188.4 L410.2,188.6 L410.8,188.8 L411.4,188.7 L412.0,188.4 L412.6,188.1 L413.2,188.0 L413.8,188.2 L414.4,188.6 L415.0,188.8 L415.6,189.1 L416.2,189.0 L416.8,188.9 L417.4,188.9 L418.0,189.1 L418.6,189.5 L419.2,189.8 L419.8,190.4 L420.4,190.8 L421.0,191.1 L421.6,191.4 L422.2,191.5 L422.8,191.2 L423.4,190.7 L424.0,190.4 L424.6,190.0 L425.2,189.9 L425.8,189.6 L426.4,189.8 L427.0,189.8 L427.6,189.9 L428.2,189.8 L428.8,189.6 L429.4,189.3 L430.0,189.2 L430.6,189.2 L431.2,189.3 L431.8,189.1 L432.4,188.8 L433.0,188.5 L433.6,188.2 L434.2,188.1 L434.8,187.8 L435.4,187.8 L436.0,187.4 L436.6,187.2 L437.2,186.9 L437.8,187.1 L438.4,187.4 L439.0,187.5 L439.6,187.6 L440.2,187.4 L440.8,187.3 L441.4,187.1 L442.0,187.2 L442.6,187.4 L443.2,187.7 L443.8,188.0 L444.4,188.3 L445.0,188.7 L445.6,189.2 L446.2,189.8 L446.8,190.1 L447.4,190.0 L448.0,189.5 L448.6,189.1 L449.2,188.6 L449.8,188.5 L450.4,188.6 L451.0,189.1 L451.6,189.7 L452.2,190.0 L452.8,189.8 L453.4,189.1 L454.0,188.9 L454.6,188.7 L455.2,188.8 L455.8,188.9 L456.4,189.2 L457.0,189.5 L457.6,189.4 L458.2,189.0 L458.8,188.4 L459.4,188.2 L460.0,188.1 L460.6,188.0 L461.2,187.5 L461.8,187.1 L462.4,186.9 L463.0,187.3 L463.6,187.6 L464.2,187.7 L464.8,187.7 L465.4,188.0 L466.0,188.7 L466.6,189.4 L467.2,189.7 L467.8,190.0 L468.4,190.3 L469.0,190.8 L469.6,191.2 L470.2,191.3 L470.8,191.3 L471.4,191.2 L472.0,191.6 L472.6,192.1 L473.2,192.7 L473.8,192.7 L474.4,192.3 L475.0,191.8 L475.6,191.6 L476.2,191.5 L476.8,191.2 L477.4,190.6 L478.0,190.4 L478.6,190.5 L479.2,190.3 L479.8,190.1 L480.4,189.5 L481.0,189.3 L481.6,189.0 L482.2,189.4 L482.8,189.8 L483.4,190.0 L484.0,190.2 L484.6,190.3 L485.2,191.0 L485.8,191.4 L486.4,191.9 L487.0,192.2 L487.6,192.4 L488.2,192.4 L488.8,191.5 L489.4,190.6 L490.0,189.5 L490.6,188.9 L491.2,188.6 L491.8,188.8 L492.4,189.4 L493.0,190.4"/>
<path stroke="#3c9c9f" d="M62.2,121.7 L62.8,122.3 L63.4,122.6 L64.0,122.5 L64.6,122.2 L65.2,122.1 L65.8,122.0 L66.4,122.1 L67.0,122.0 L67.6,119.7 L68.2,118.3 L68.8,115.9 L69.4,111.8 L70.0,106.8 L70.6,101.3 L71.2,97.4 L71.8,95.5 L72.4,97.3 L73.0,101.1 L73.6,106.1 L74.2,110.9 L74.8,114.9 L75.4,118.0 L76.0,119.8 L76.6,120.8 L77.2,120.9 L77.8,121.2 L78.4,121.2 L79.0,121.5 L79.6,121.3 L80.2,121.9 L80.8,121.8 L81.4,121.5 L82.0,121.3 L82.6,121.0 L83.2,120.9 L83.8,120.7 L84.4,120.8 L85.0,121.5 L85.6,122.5 L86.2,123.4 L86.8,123.5 L87.4,122.9 L88.0,122.2 L88.6,121.6 L89.2,121.1 L89.8,120.9 L90.4,120.7 L91.0,120.4 L91.6,119.9 L92.2,119.6 L92.8,119.5 L93.4,119.7 L94.0,120.2 L94.6,120.7 L95.2,121.4 L95.8,121.8 L96.4,122.4 L97.0,122.6 L97.6,122.8 L98.2,122.7 L98.8,122.7 L99.4,122.4 L100.0,121.7 L100.6,120.6 L101.2,118.9 L101.8,116.6 L102.4,114.0 L103.0,111.9 L103.6,111.7 L104.2,113.4 L104.8,116.0 L105.4,118.4 L106.0,120.4 L106.6,121.4 L107.2,122.2 L107.8,122.1 L108.4,121.3 L109.0,120.1 L109.6,119.2 L110.2,118.6 L110.8,118.5 L111.4,118.4 L112.0,118.3 L112.6,118.3 L113.2,119.6 L113.8,121.2 L114.4,122.7 L115.0,123.1 L115.6,122.7 L116.2,122.3 L116.8,121.8 L117.4,121.5 L118.0,121.4 L118.6,121.7 L119.2,122.1 L119.8,122.8 L120.4,123.3 L121.0,123.6 L121.6,123.5 L122.2,123.1 L122.8,122.7 L123.4,122.1 L124.0,121.3 L124.6,120.2 L125.2,119.2 L125.8,118.3 L126.4,117.9 L127.0,118.0 L127.6,119.0 L128.2,120.2 L128.8,121.4 L129.4,122.4 L130.0,123.0 L130.6,123.0 L131.2,122.4 L131.8,121.3 L132.4,119.8 L133.0,118.7 L133.6,118.1 L134.2,118.3 L134.8,119.2 L135.4,121.0 L136.0,122.8 L136.6,124.2 L137.2,124.8 L137.8,124.8 L138.4,124.6 L139.0,124.2 L139.6,123.5 L140.2,122.9 L140.8,122.5 L141.4,122.2 L142.0,121.8 L142.6,121.5 L143.2,120.9 L143.8,120.6 L144.4,120.8 L145.0,121.4 L145.6,122.2 L146.2,122.6 L146.8,123.0 L147.4,123.2 L148.0,123.2 L148.6,122.9 L149.2,122.7 L149.8,122.5 L150.4,122.5 L151.0,122.6 L151.6,122.8 L152.2,122.8 L152.8,122.8 L153.4,123.0 L154.0,123.3 L154.6,123.7 L155.2,124.0 L155.8,122.4 L156.4,122.1 L157.0,121.5 L157.6,120.8 L158.2,119.9 L158.8,118.5 L159.4,116.7 L160.0,113.4 L160.6,108.2 L161.2,100.8 L161.8,92.0 L162.4,82.3 L163.0,72.3 L163.6,62.6 L164.2,55.2 L164.8,52.0 L165.4,53.9 L166.0,60.2 L166.6,69.3 L167.2,79.6 L167.8,89.5 L168.4,98.2 L169.0,105.2 L169.6,110.6 L170.2,114.5 L170.8,117.2 L171.4,118.5 L172.0,119.3 L172.6,119.8 L173.2,122.1 L173.8,123.0 L174.4,123.3 L175.0,123.1 L175.6,123.2 L176.2,123.2 L176.8,123.5 L177.4,123.5 L178.0,123.5 L178.6,123.5 L179.2,123.9 L179.8,124.4 L180.4,124.7 L181.0,124.4 L181.6,124.0 L182.2,123.7 L182.8,123.4 L183.4,122.9 L184.0,121.7 L184.6,120.5 L185.2,118.9 L185.8,117.6 L186.4,115.8 L187.0,112.7 L187.6,110.1 L188.2,105.4 L188.8,99.4 L189.4,95.0 L190.0,97.0 L190.6,104.1 L191.2,111.9 L191.8,117.4 L192.4,120.8 L193.0,124.7 L193.6,125.8 L194.2,126.7 L194.8,127.1 L195.4,126.8 L196.0,126.2 L196.6,125.7 L197.2,125.6 L197.8,125.7 L198.4,125.8 L199.0,125.8 L199.6,125.5 L200.2,125.1 L200.8,124.7 L201.4,124.6 L202.0,124.7 L202.6,124.7 L203.2,124.4 L203.8,124.0 L204.4,123.3 L205.0,122.9 L205.6,122.5 L206.2,122.7 L206.8,122.8 L207.4,122.9 L208.0,122.6 L208.6,122.4 L209.2,122.3 L209.8,122.2 L210.4,122.0 L211.0,121.9 L211.6,122.0 L212.2,122.4 L212.8,122.7 L213.4,122.8 L214.0,122.5 L214.6,122.3 L215.2,122.1 L215.8,122.3 L216.4,122.4 L217.0,122.6 L217.6,122.4 L218.2,122.3 L218.8,122.2 L219.4,122.1 L220.0,121.9 L220.6,122.0 L221.2,122.2 L221.8,122.8 L222.4,122.7 L223.0,122.4 L223.6,121.8 L224.2,121.7 L224.8,121.9 L225.4,122.1 L226.0,122.3 L226.6,122.4 L227.2,122.6 L227.8,122.8 L228.4,122.6 L229.0,122.5 L229.6,122.4 L230.2,122.8 L230.8,122.9 L231.4,123.1 L232.0,123.0 L232.6,122.9 L233.2,122.8 L233.8,122.6 L234.4,122.5 L235.0,122.4 L235.6,122.8 L236.2,123.4 L236.8,124.1 L237.4,124.7 L238.0,124.8 L238.6,124.6 L239.2,124.3 L239.8,124.0 L240.4,124.1 L241.0,124.3 L241.6,124.8 L242.2,124.9 L242.8,125.2 L243.4,125.6 L244.0,126.1 L244.6,126.5 L245.2,126.4 L245.8,126.3 L246.4,126.1 L247.0,126.0 L247.6,125.9 L248.2,125.9 L248.8,125.7 L249.4,125.7 L250.0,125.3 L250.6,125.2 L251.2,124.8 L251.8,124.8 L252.4,124.6 L253.0,124.6 L253.6,124.5 L254.2,124.4 L254.8,124.3 L255.4,124.0 L256.0,123.7 L256.6,123.3 L257.2,123.0 L257.8,122.7 L258.4,122.6 L259.0,122.6 L259.6,122.3 L260.2,121.9 L260.8,121.1 L261.4,119.6 L262.0,117.7 L262.6,115.5 L263.2,114.0 L263.8,113.7 L264.4,114.6 L265.0,116.3 L265.6,118.1 L266.2,120.1 L266.8,121.8 L267.4,123.0 L268.0,124.0 L268.6,124.7 L269.2,124.5 L269.8,124.3 L270.4,124.2 L271.0,124.1 L271.6,123.8 L272.2,123.2 L272.8,122.8 L273.4,122.6 L274.0,122.8 L274.6,122.7 L275.2,122.5 L275.8,122.5 L276.4,122.8 L277.0,123.6 L277.6,124.3 L278.2,124.8 L278.8,125.0 L279.4,124.9 L280.0,124.7 L280.6,124.8 L281.2,125.1 L281.8,125.6 L282.4,125.6 L283.0,125.3 L283.6,124.9 L284.2,124.6 L284.8,124.8 L285.4,125.0 L286.0,125.0 L286.6,125.0 L287.2,124.9 L287.8,125.1 L288.4,124.9 L289.0,124.7 L289.6,124.6 L290.2,124.8 L290.8,125.2 L291.4,125.3 L292.0,125.3 L292.6,125.2 L293.2,124.9 L293.8,124.6 L294.4,124.2 L295.0,124.1 L295.6,124.3 L296.2,125.1 L296.8,125.5 L297.4,125.7 L298.0,125.2 L298.6,125.2 L299.2,125.2 L299.8,125.4 L300.4,125.5 L301.0,125.1 L301.6,124.7 L302.2,124.5 L302.8,125.0 L303.4,125.7 L304.0,126.1 L304.6,126.0 L305.2,125.4 L305.8,125.2 L306.4,125.1 L307.0,125.4 L307.6,125.6 L308.2,125.8 L308.8,125.8 L309.4,125.3 L310.0,125.1 L310.6,124.7 L311.2,124.8 L311.8,124.6 L312.4,124.7 L313.0,124.7 L313.6,124.6 L314.2,124.1 L314.8,123.7 L315.4,123.2 L316.0,123.1 L316.6,123.0 L317.2,123.0 L317.8,123.0 L318.4,123.1 L319.0,123.2 L319.6,123.2 L320.2,123.2 L320.8,123.1 L321.4,123.2 L322.0,123.1 L322.6,122.7 L323.2,122.3 L323.8,121.8 L324.4,121.9 L325.0,121.8 L325.6,121.8 L326.2,121.5 L326.8,121.4 L327.4,121.0 L328.0,121.1 L328.6,121.1 L329.2,120.9 L329.8,120.3 L330.4,119.0 L331.0,116.7 L331.6,113.5 L332.2,110.4 L332.8,108.3 L333.4,108.8 L334.0,111.5 L334.6,115.2 L335.2,118.5 L335.8,121.0 L336.4,122.3 L337.0,123.4 L337.6,123.9 L338.2,124.3 L338.8,124.6 L339.4,124.9 L340.0,125.3 L340.6,125.6 L341.2,125.6 L341.8,125.7 L342.4,125.4 L343.0,125.3 L343.6,125.2 L344.2,125.3 L344.8,125.5 L345.4,125.7 L346.0,125.7 L346.6,125.8 L347.2,125.6 L347.8,125.4 L348.4,125.2 L349.0,125.1 L349.6,124.7 L350.2,123.9 L350.8,123.7 L351.4,124.0 L352.0,124.5 L352.6,124.6 L353.2,124.5 L353.8,124.2 L354.4,124.0 L355.0,123.8 L355.6,123.8 L356.2,123.7 L356.8,123.6 L357.4,123.3 L358.0,123.0 L358.6,122.9 L359.2,123.0 L359.8,123.1 L360.4,123.0 L361.0,122.7 L361.6,122.1 L362.2,121.5 L362.8,121.1 L363.4,120.9 L364.0,120.6 L364.6,119.8 L365.2,118.8 L365.8,118.0 L366.4,117.8 L367.0,118.3 L367.6,119.3 L368.2,120.1 L368.8,120.6 L369.4,119.8 L370.0,117.4 L370.6,114.9 L371.2,114.2 L371.8,116.4 L372.4,120.2 L373.0,123.4 L373.6,124.0 L374.2,124.0 L374.8,124.0 L375.4,124.1 L376.0,124.1 L376.6,124.4 L377.2,124.6 L377.8,124.9 L378.4,124.9 L379.0,124.9 L379.6,124.8 L380.2,124.7 L380.8,124.6 L381.4,124.8 L382.0,125.3 L382.6,125.6 L383.2,125.5 L383.8,125.5 L384.4,125.4 L385.0,125.5 L385.6,125.4 L386.2,125.4 L386.8,125.4 L387.4,125.9 L388.0,126.0 L388.6,126.2 L389.2,126.0 L389.8,126.3 L390.4,126.4 L391.0,126.7 L391.6,126.7 L392.2,126.6 L392.8,126.5 L393.4,126.4 L394.0,126.2 L394.6,126.0 L395.2,125.7 L395.8,125.6 L396.4,125.4 L397.0,125.2 L397.6,124.6 L398.2,124.1 L398.8,124.1 L399.4,124.5 L400.0,124.3 L400.6,123.5 L401.2,122.8 L401.8,122.6 L402.4,122.5 L403.0,122.3 L403.6,121.9 L404.2,121.6 L404.8,121.6 L405.4,121.6 L406.0,121.8 L406.6,122.0 L407.2,122.2 L407.8,122.0 L408.4,121.8 L409.0,121.8 L409.6,122.4 L410.2,122.5 L410.8,122.4 L411.4,122.2 L412.0,122.7 L412.6,123.5 L413.2,124.4 L413.8,124.6 L414.4,124.8 L415.0,124.7 L415.6,124.5 L416.2,124.0 L416.8,123.7 L417.4,123.7 L418.0,124.1 L418.6,124.3 L419.2,124.5 L419.8,124.5 L420.4,124.9 L421.0,125.1 L421.6,125.8 L422.2,126.1 L422.8,126.5 L423.4,126.3 L424.0,126.0 L424.6,125.8 L425.2,125.7 L425.8,125.6 L426.4,125.8 L427.0,125.8 L427.6,125.9 L428.2,125.8 L428.8,125.9 L429.4,125.9 L430.0,125.9 L430.6,125.7 L431.2,125.7 L431.8,125.4 L432.4,125.5 L433.0,125.4 L433.6,125.8 L434.2,125.9 L434.8,125.9 L435.4,125.8 L436.0,125.5 L436.6,125.5 L437.2,125.1 L437.8,125.2 L438.4,125.0 L439.0,124.9 L439.6,124.5 L440.2,123.8 L440.8,123.5 L441.4,123.2 L442.0,123.6 L442.6,123.9 L443.2,124.3 L443.8,124.1 L444.4,123.8 L445.0,123.6 L445.6,123.8 L446.2,124.1 L446.8,124.4 L447.4,124.3 L448.0,124.5 L448.6,124.6 L449.2,125.0 L449.8,125.2 L450.4,125.4 L451.0,125.8 L451.6,126.3 L452.2,126.8 L452.8,127.0 L453.4,126.6 L454.0,126.4 L454.6,126.6 L455.2,127.1 L455.8,127.7 L456.4,127.8 L457.0,127.7 L457.6,127.5 L458.2,127.4 L458.8,127.5 L459.4,127.4 L460.0,127.6 L460.6,127.7 L461.2,127.8 L461.8,127.8 L462.4,127.2 L463.0,126.8 L463.6,126.4 L464.2,126.6 L464.8,126.9 L465.4,127.2 L466.0,127.4 L466.6,127.2 L467.2,127.0 L467.8,127.0 L468.4,127.1 L469.0,127.2 L469.6,127.3 L470.2,127.5 L470.8,127.9 L471.4,128.0 L472.0,127.7 L472.6,127.0 L473.2,126.5 L473.8,125.9 L474.4,125.6 L475.0,125.2 L475.6,124.8 L476.2,124.6 L476.8,124.5 L477.4,124.6 L478.0,124.4 L478.6,124.4 L479.2,124.1 L479.8,124.0 L480.4,123.9 L481.0,123.8 L481.6,123.5 L482.2,123.2 L482.8,122.9 L483.4,123.1 L484.0,123.4 L484.6,124.0 L485.2,124.5 L485.8,125.0 L486.4,125.4 L487.0,125.4 L487.6,125.3 L488.2,125.0 L488.8,124.8 L489.4,124.7 L490.0,125.1 L490.6,125.5 L491.2,125.6 L491.8,125.7 L492.4,126.0 L493.0,126.6"/>
</g>
<g fill="#111" stroke="#111">
<line x1="164.9" y1="48.8" x2="164.9" y2="51.8" stroke-width="1.2"/>
<polygon stroke="none" points="164.9,40.7 162.0,49.3 167.8,49.3"/>
<line x1="71.9" y1="92.3" x2="71.9" y2="95.6" stroke-width="1.2"/>
<polygon stroke="none" points="71.9,83.7 69.0,92.8 74.80000000000001,92.8"/>
<line x1="103.1" y1="110.0" x2="103.1" y2="111.6" stroke-width="1.2"/>
<polygon stroke="none" points="103.1,101.8 100.19999999999999,110.5 106.0,110.5"/>
<line x1="189.6" y1="89.5" x2="189.6" y2="94.5" stroke-width="1.2"/>
<polygon stroke="none" points="189.6,80.4 186.7,90.0 192.5,90.0"/>
<line x1="264.4" y1="106.9" x2="264.4" y2="112.5" stroke-width="1.2"/>
<polygon stroke="none" points="264.4,98.5 261.5,107.4 267.29999999999995,107.4"/>
<line x1="333.2" y1="108.1" x2="333.2" y2="109.5" stroke-width="1.2"/>
<polygon stroke="none" points="333.2,100.1 330.3,108.6 336.09999999999997,108.6"/>
<line x1="370.3" y1="106.3" x2="370.3" y2="116.0" stroke-width="1.2"/>
<polygon stroke="none" points="370.3,97.9 367.40000000000003,106.8 373.2,106.8"/>
<line x1="55.1" y1="160.7" x2="55.1" y2="171.3" stroke-width="1.2"/>
<polygon stroke="none" points="55.1,152.1 52.2,161.2 58.0,161.2"/>
<line x1="80.5" y1="182.0" x2="80.5" y2="184.5" stroke-width="1.2"/>
<polygon stroke="none" points="80.5,173.6 77.6,182.5 83.4,182.5"/>
<line x1="111.4" y1="167.3" x2="111.4" y2="183.3" stroke-width="1.2"/>
<polygon stroke="none" points="111.4,158.1 108.5,167.8 114.30000000000001,167.8"/>
<line x1="60.8" y1="244.5" x2="60.8" y2="248.0" stroke-width="1.2"/>
<polygon stroke="none" points="60.8,236.4 57.9,245.0 63.699999999999996,245.0"/>
<line x1="126.2" y1="242.8" x2="126.2" y2="247.0" stroke-width="1.2"/>
<polygon stroke="none" points="126.2,233.9 123.3,243.3 129.1,243.3"/>
<line x1="90.5" y1="308.2" x2="90.5" y2="309.5" stroke-width="1.2"/>
<polygon stroke="none" points="90.5,300.1 87.6,308.7 93.4,308.7"/>
<line x1="133.1" y1="294.0" x2="133.1" y2="306.5" stroke-width="1.2"/>
<polygon stroke="none" points="133.1,285.7 130.2,294.5 136.0,294.5"/>
</g>
<g stroke="#111" stroke-width="1.5" fill="none">
<path d="M36.3,38.8 V379.2 H493"/>
<line x1="36.3" y1="117.8" x2="40.5" y2="117.8"/>
<line x1="36.3" y1="205.1" x2="40.5" y2="205.1"/>
<line x1="36.3" y1="292.4" x2="40.5" y2="292.4"/>
<line x1="52.0" y1="379.2" x2="52.0" y2="375.4"/>
<line x1="83.5" y1="379.2" x2="83.5" y2="372.4"/>
<line x1="114.9" y1="379.2" x2="114.9" y2="375.4"/>
<line x1="146.4" y1="379.2" x2="146.4" y2="372.4"/>
<line x1="177.9" y1="379.2" x2="177.9" y2="375.4"/>
<line x1="209.3" y1="379.2" x2="209.3" y2="372.4"/>
<line x1="240.8" y1="379.2" x2="240.8" y2="375.4"/>
<line x1="272.3" y1="379.2" x2="272.3" y2="372.4"/>
<line x1="303.8" y1="379.2" x2="303.8" y2="375.4"/>
<line x1="335.2" y1="379.2" x2="335.2" y2="372.4"/>
<line x1="366.7" y1="379.2" x2="366.7" y2="375.4"/>
<line x1="398.2" y1="379.2" x2="398.2" y2="372.4"/>
<line x1="429.6" y1="379.2" x2="429.6" y2="375.4"/>
<line x1="461.1" y1="379.2" x2="461.1" y2="372.4"/>
<line x1="492.6" y1="379.2" x2="492.6" y2="375.4"/>
</g>
<g font-family="Liberation Sans, Arial, sans-serif" fill="#111" stroke="#111" stroke-width="0.2">
<text x="83.5" y="398" font-size="14.2" text-anchor="middle">200</text>
<text x="146.4" y="398" font-size="14.2" text-anchor="middle">400</text>
<text x="209.3" y="398" font-size="14.2" text-anchor="middle">600</text>
<text x="272.3" y="398" font-size="14.2" text-anchor="middle">800</text>
<text x="335.2" y="398" font-size="14.2" text-anchor="middle">1000</text>
<text x="398.2" y="398" font-size="14.2" text-anchor="middle">1200</text>
<text x="461.1" y="398" font-size="14.2" text-anchor="middle">1400</text>
<text x="192.6" y="428.2" font-size="17.2">Raman shift (cm<tspan font-size="9.5" dx="0.8" dy="-7.2">−1</tspan><tspan dx="1" dy="7.2">)</tspan></text>
<text transform="translate(20.6,211.5) rotate(-90)" font-size="17.7" text-anchor="middle">Relative Intensity (a.u.)</text>
<text x="155.8" y="38.8" font-size="12.8">458(<tspan font-style="italic">v</tspan><tspan font-style="italic" font-size="8" dy="4.1">9</tspan><tspan dy="-4.1">)</tspan></text>
<text x="57.9" y="81.7" font-size="12.8">162(<tspan font-style="italic">v</tspan><tspan font-style="italic" font-size="8" dy="4.1">2</tspan><tspan dy="-4.1">)</tspan></text>
<text x="91.0" y="100.7" font-size="12.8">262(<tspan font-style="italic">v</tspan><tspan font-style="italic" font-size="8" dy="4.1">5</tspan><tspan dy="-4.1">)</tspan></text>
<text x="181.7" y="77.8" font-size="12.8">536(<tspan font-style="italic">v</tspan><tspan font-style="italic" font-size="8" dy="4.1">10</tspan><tspan dy="-4.1">)</tspan></text>
<text x="249.6" y="98.5" font-size="12.8">773(<tspan font-style="italic">v</tspan><tspan font-style="italic" font-size="8" dy="4.1">11</tspan><tspan dy="-4.1">)</tspan></text>
<text x="303.0" y="95.3" font-size="12.8">992(<tspan font-style="italic">v</tspan><tspan font-style="italic" font-size="8" dy="4.1">12</tspan><tspan dy="-4.1">)</tspan></text>
<text x="358.1" y="95.3" font-size="12.8">1110(<tspan font-style="italic">v</tspan><tspan font-style="italic" font-size="8" dy="4.1">13</tspan><tspan dy="-4.1">)</tspan></text>
<text x="39.1" y="150.1" font-size="12.8">107(<tspan font-style="italic">v</tspan><tspan font-style="italic" font-size="8" dy="4.1">1</tspan><tspan dy="-4.1">)</tspan></text>
<text x="72.4" y="168.5" font-size="12.8">189(<tspan font-style="italic">v</tspan><tspan font-style="italic" font-size="8" dy="4.1">3</tspan><tspan dy="-4.1">)</tspan></text>
<text x="107.6" y="156.2" font-size="12.8">289(<tspan font-style="italic">v</tspan><tspan font-style="italic" font-size="8" dy="4.1">6</tspan><tspan dy="-4.1">)</tspan></text>
<text x="43.5" y="227.2" font-size="12.8">127(<tspan font-style="italic">v</tspan><tspan font-style="italic" font-size="8" dy="4.1">1</tspan><tspan dy="-4.1">)</tspan></text>
<text x="111.7" y="229.4" font-size="12.8">335(<tspan font-style="italic">v</tspan><tspan font-style="italic" font-size="8" dy="4.1">7</tspan><tspan dy="-4.1">)</tspan></text>
<text x="81.6" y="296.1" font-size="12.8">223(<tspan font-style="italic">v</tspan><tspan font-style="italic" font-size="8" dy="4.1">4</tspan><tspan dy="-4.1">)</tspan></text>
<text x="121.8" y="283.8" font-size="12.8">358(<tspan font-style="italic">v</tspan><tspan font-style="italic" font-size="8" dy="4.1">8</tspan><tspan dy="-4.1">)</tspan></text>
</g>
<rect x="429.2" y="8.9" width="113.8" height="108.4" fill="#fff" stroke="#7c7c7c" stroke-width="1.1"/>
<line x1="436.5" y1="21.4" x2="476.7" y2="21.4" stroke="#3c9c9f" stroke-width="1.3"/>
<text x="481.2" y="28.0" font-family="Liberation Sans, Arial, sans-serif" font-size="17.8" fill="#111" stroke="#111" stroke-width="0.3">U-2-2</text>
<line x1="436.5" y1="42.9" x2="476.7" y2="42.9" stroke="#a0a34a" stroke-width="1.3"/>
<text x="481.2" y="49.5" font-family="Liberation Sans, Arial, sans-serif" font-size="17.8" fill="#111" stroke="#111" stroke-width="0.3">U-2-1</text>
<line x1="436.5" y1="64.4" x2="476.7" y2="64.4" stroke="#9c4ca8" stroke-width="1.3"/>
<text x="481.2" y="71.0" font-family="Liberation Sans, Arial, sans-serif" font-size="17.8" fill="#111" stroke="#111" stroke-width="0.3">U-1-2</text>
<line x1="436.5" y1="85.9" x2="476.7" y2="85.9" stroke="#4a4a9c" stroke-width="1.3"/>
<text x="481.2" y="92.5" font-family="Liberation Sans, Arial, sans-serif" font-size="17.8" fill="#111" stroke="#111" stroke-width="0.3">U-1-1</text>
<line x1="436.5" y1="107.4" x2="476.7" y2="107.4" stroke="#dd5050" stroke-width="1.3"/>
<text x="481.2" y="114.0" font-family="Liberation Sans, Arial, sans-serif" font-size="17.8" fill="#111" stroke="#111" stroke-width="0.3">RRUFF</text>
</svg>
</body></html>
